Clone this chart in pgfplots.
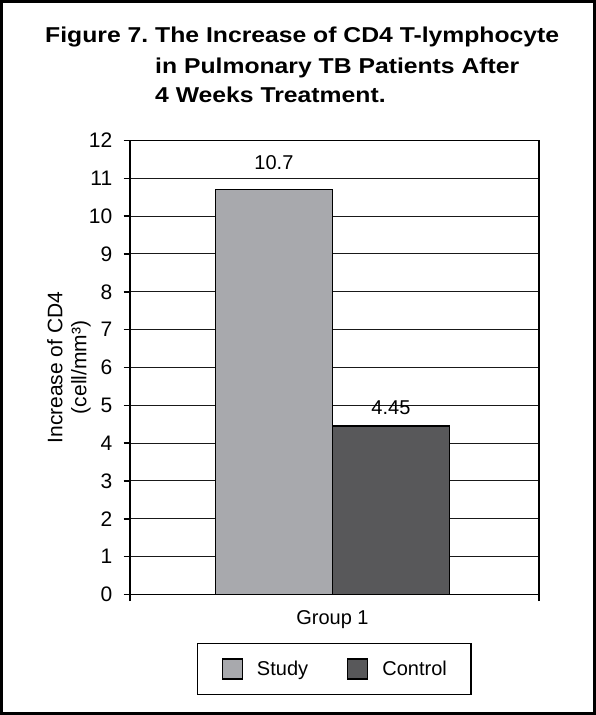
\documentclass[border=0pt]{standalone}
\usepackage{pgfplots}
\pgfplotsset{compat=1.18}
\usepackage{fontspec}
\setmainfont{Liberation Sans}
\definecolor{studyc}{RGB}{168,169,173}
\definecolor{controlc}{RGB}{88,88,90}
\begin{document}
\begin{tikzpicture}[x=1pt,y=1pt]
\path (0,0) rectangle (596,715);
\draw[line width=3pt] (1.5,1.5) rectangle (594.5,713.5);
\begin{scope}[every node/.style={inner sep=0pt, anchor=base west, xscale=1.15, font=\bfseries\fontsize{21.5}{24}\selectfont}]
\node at (45,672.3) {Figure 7.};
\node at (155,672.3) {The Increase of CD4 T-lymphocyte};
\node at (155,641) {in Pulmonary TB Patients After};
\node at (155,612.3) {4 Weeks Treatment.};
\end{scope}
\begin{axis}[
  at={(130pt,120.5pt)}, anchor=south west,
  scale only axis, width=409pt, height=454pt,
  xmin=-0.99, xmax=1.01, ymin=0, ymax=12,
  ytick={0,1,...,12},
  xtick={-0.99,1.01}, xticklabels={},
  xtick pos=lower, ytick pos=left,
  tick align=outside, major tick length=6.5pt,
  every tick/.style={black, line width=1.5pt},
  axis line style={line width=1.8pt},
  ymajorgrids, grid style={black!90, line width=1pt},
  /pgf/number format/assume math mode=true,
  tick label style={font=\fontsize{21}{24}\selectfont},
  yticklabel style={inner sep=0pt, xshift=-11pt},
  label style={font=\fontsize{20}{22}\selectfont},
  xlabel={Group 1},
  xlabel style={at={(rel axis cs:0.495,0)}, anchor=base, inner sep=0pt, yshift=-29.5pt},
  ylabel={Increase of CD4\\(cell/mm³)},
  ylabel style={at={(rel axis cs:-0.149,0.5)}, anchor=center, align=center, inner sep=0pt,
    font=\fontsize{21}{24}\selectfont},
  ybar, bar width=117pt,
  nodes near coords,
  every node near coord/.append style={font=\fontsize{20}{24}\selectfont, anchor=base, inner sep=0pt, black},
  legend columns=2,
  legend style={at={(rel axis cs:0.4995,-0.164)}, anchor=center, draw=black, line width=1.5pt,
    inner xsep=24pt, inner ysep=15pt,
    font=\fontsize{20}{24}\selectfont,
    nodes={inner sep=0pt},
    /tikz/every odd column/.append style={column sep=14pt},
    /tikz/every even column/.append style={column sep=39pt}},
  legend image code/.code={\draw[#1, line width=1.3pt] (0pt,-10pt) rectangle (20pt,10pt);},
]
\addplot[fill=studyc, draw=black, line width=1.3pt, bar shift=-58.5pt,
  every node near coord/.append style={yshift=20pt}] coordinates {(0,10.7)};
\addplot[fill=controlc, draw=black, line width=1.3pt, bar shift=58.5pt,
  every node near coord/.append style={yshift=12pt}] coordinates {(0,4.45)};
\legend{Study,Control}
\end{axis}
\end{tikzpicture}
\end{document}
